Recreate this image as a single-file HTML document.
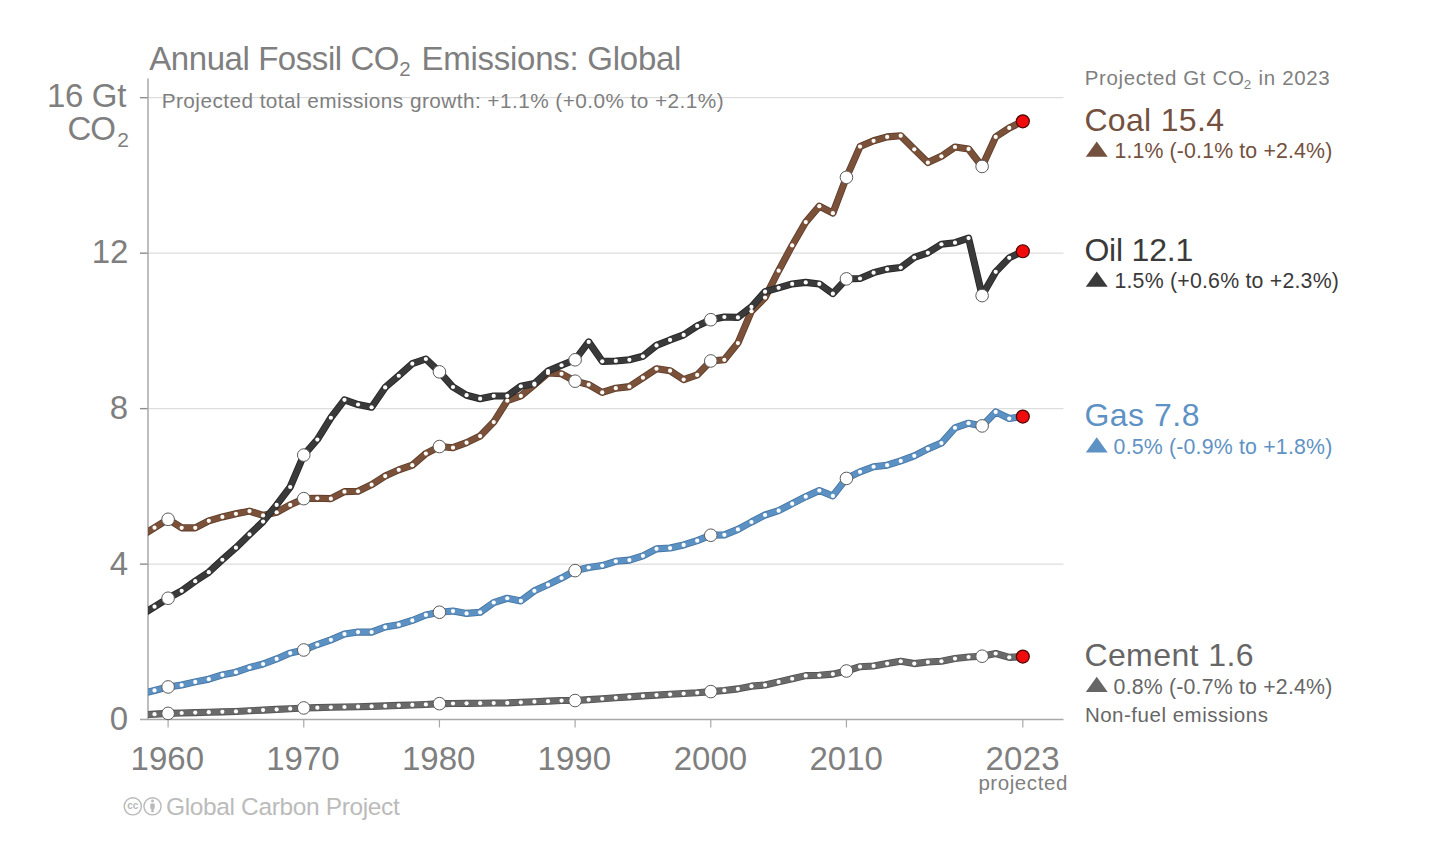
<!DOCTYPE html>
<html><head><meta charset="utf-8"><style>
html,body{margin:0;padding:0;background:#fff;}
body{width:1455px;height:857px;overflow:hidden;font-family:"Liberation Sans",sans-serif;}
svg{display:block;}
</style></head><body>
<svg width="1455" height="857" viewBox="0 0 1455 857">
<rect width="1455" height="857" fill="#ffffff"/>
<line x1="148.0" y1="564.12" x2="1063.5" y2="564.12" stroke="#dddddd" stroke-width="1.2"/>
<line x1="140" y1="564.12" x2="148.0" y2="564.12" stroke="#8c8c8c" stroke-width="1.4"/>
<line x1="148.0" y1="408.64" x2="1063.5" y2="408.64" stroke="#dddddd" stroke-width="1.2"/>
<line x1="140" y1="408.64" x2="148.0" y2="408.64" stroke="#8c8c8c" stroke-width="1.4"/>
<line x1="148.0" y1="253.16" x2="1063.5" y2="253.16" stroke="#dddddd" stroke-width="1.2"/>
<line x1="140" y1="253.16" x2="148.0" y2="253.16" stroke="#8c8c8c" stroke-width="1.4"/>
<line x1="148.0" y1="97.68" x2="1063.5" y2="97.68" stroke="#dddddd" stroke-width="1.2"/>
<line x1="140" y1="97.68" x2="148.0" y2="97.68" stroke="#8c8c8c" stroke-width="1.4"/>
<line x1="148.0" y1="78.5" x2="148.0" y2="720" stroke="#a8a8a8" stroke-width="1.5"/>
<line x1="140" y1="719.6" x2="1063.5" y2="719.6" stroke="#a8a8a8" stroke-width="1.5"/>
<line x1="168.10" y1="719.6" x2="168.10" y2="727.5" stroke="#a8a8a8" stroke-width="1.2"/>
<line x1="303.77" y1="719.6" x2="303.77" y2="727.5" stroke="#a8a8a8" stroke-width="1.2"/>
<line x1="439.44" y1="719.6" x2="439.44" y2="727.5" stroke="#a8a8a8" stroke-width="1.2"/>
<line x1="575.11" y1="719.6" x2="575.11" y2="727.5" stroke="#a8a8a8" stroke-width="1.2"/>
<line x1="710.78" y1="719.6" x2="710.78" y2="727.5" stroke="#a8a8a8" stroke-width="1.2"/>
<line x1="846.45" y1="719.6" x2="846.45" y2="727.5" stroke="#a8a8a8" stroke-width="1.2"/>
<line x1="1022.82" y1="719.6" x2="1022.82" y2="727.5" stroke="#a8a8a8" stroke-width="1.2"/>
<clipPath id="c"><rect x="148" y="0" width="1000" height="719"/></clipPath>
<g clip-path="url(#c)">
<path d="M140.97,714.94 L154.53,714.16 L168.10,713.39 L181.67,713.00 L195.23,712.61 L208.80,712.22 L222.37,711.83 L235.94,711.44 L249.50,710.76 L263.07,710.08 L276.64,709.40 L290.20,708.72 L303.77,707.94 L317.34,707.63 L330.90,707.32 L344.47,707.01 L358.04,706.70 L371.61,706.38 L385.17,705.90 L398.74,705.41 L412.31,704.93 L425.87,704.44 L439.44,703.66 L453.01,703.51 L466.57,703.35 L480.14,703.20 L493.71,703.04 L507.27,702.88 L520.84,702.30 L534.41,701.72 L547.98,701.13 L561.54,700.55 L575.11,700.55 L588.68,699.64 L602.24,698.73 L615.81,697.83 L629.38,696.85 L642.95,695.88 L656.51,695.10 L670.08,694.33 L683.65,693.55 L697.21,692.77 L710.78,691.60 L724.35,690.44 L737.91,688.88 L751.48,686.16 L765.05,684.99 L778.62,681.88 L792.18,678.77 L805.75,675.65 L819.32,675.26 L832.88,674.10 L846.45,670.99 L860.02,666.71 L873.58,665.93 L887.15,663.60 L900.72,661.26 L914.29,663.60 L927.85,662.04 L941.42,661.26 L954.99,658.54 L968.55,656.98 L982.12,656.20 L995.69,653.48 L1009.25,657.37 L1022.82,656.59" fill="none" stroke="#525252" stroke-width="7.1" stroke-linejoin="round" stroke-linecap="butt"/>
<path d="M140.97,714.94 L154.53,714.16 L168.10,713.39 L181.67,713.00 L195.23,712.61 L208.80,712.22 L222.37,711.83 L235.94,711.44 L249.50,710.76 L263.07,710.08 L276.64,709.40 L290.20,708.72 L303.77,707.94 L317.34,707.63 L330.90,707.32 L344.47,707.01 L358.04,706.70 L371.61,706.38 L385.17,705.90 L398.74,705.41 L412.31,704.93 L425.87,704.44 L439.44,703.66 L453.01,703.51 L466.57,703.35 L480.14,703.20 L493.71,703.04 L507.27,702.88 L520.84,702.30 L534.41,701.72 L547.98,701.13 L561.54,700.55 L575.11,700.55 L588.68,699.64 L602.24,698.73 L615.81,697.83 L629.38,696.85 L642.95,695.88 L656.51,695.10 L670.08,694.33 L683.65,693.55 L697.21,692.77 L710.78,691.60 L724.35,690.44 L737.91,688.88 L751.48,686.16 L765.05,684.99 L778.62,681.88 L792.18,678.77 L805.75,675.65 L819.32,675.26 L832.88,674.10 L846.45,670.99 L860.02,666.71 L873.58,665.93 L887.15,663.60 L900.72,661.26 L914.29,663.60 L927.85,662.04 L941.42,661.26 L954.99,658.54 L968.55,656.98 L982.12,656.20 L995.69,653.48 L1009.25,657.37 L1022.82,656.59" fill="none" stroke="#6a6a6a" stroke-width="5.5" stroke-linejoin="round" stroke-linecap="butt"/>
<path d="M140.97,693.94 L154.53,690.44 L168.10,686.93 L181.67,684.99 L195.23,681.88 L208.80,679.15 L222.37,674.88 L235.94,672.15 L249.50,667.49 L263.07,663.98 L276.64,658.93 L290.20,653.09 L303.77,649.98 L317.34,644.53 L330.90,639.87 L344.47,634.03 L358.04,632.09 L371.61,632.09 L385.17,627.03 L398.74,624.69 L412.31,620.42 L425.87,614.97 L439.44,612.25 L453.01,611.08 L466.57,613.41 L480.14,612.25 L493.71,602.52 L507.27,598.24 L520.84,600.97 L534.41,590.85 L547.98,584.63 L561.54,578.01 L575.11,570.62 L588.68,567.51 L602.24,565.57 L615.81,561.29 L629.38,560.12 L642.95,555.84 L656.51,548.84 L670.08,548.06 L683.65,544.95 L697.21,540.67 L710.78,535.23 L724.35,534.84 L737.91,529.39 L751.48,522.00 L765.05,515.00 L778.62,510.72 L792.18,503.72 L805.75,496.71 L819.32,490.49 L832.88,495.94 L846.45,478.43 L860.02,471.82 L873.58,466.76 L887.15,465.21 L900.72,460.93 L914.29,455.87 L927.85,448.87 L941.42,443.03 L954.99,427.86 L968.55,423.19 L982.12,425.92 L995.69,411.91 L1009.25,418.53 L1022.82,416.58" fill="none" stroke="#44739f" stroke-width="7.1" stroke-linejoin="round" stroke-linecap="butt"/>
<path d="M140.97,693.94 L154.53,690.44 L168.10,686.93 L181.67,684.99 L195.23,681.88 L208.80,679.15 L222.37,674.88 L235.94,672.15 L249.50,667.49 L263.07,663.98 L276.64,658.93 L290.20,653.09 L303.77,649.98 L317.34,644.53 L330.90,639.87 L344.47,634.03 L358.04,632.09 L371.61,632.09 L385.17,627.03 L398.74,624.69 L412.31,620.42 L425.87,614.97 L439.44,612.25 L453.01,611.08 L466.57,613.41 L480.14,612.25 L493.71,602.52 L507.27,598.24 L520.84,600.97 L534.41,590.85 L547.98,584.63 L561.54,578.01 L575.11,570.62 L588.68,567.51 L602.24,565.57 L615.81,561.29 L629.38,560.12 L642.95,555.84 L656.51,548.84 L670.08,548.06 L683.65,544.95 L697.21,540.67 L710.78,535.23 L724.35,534.84 L737.91,529.39 L751.48,522.00 L765.05,515.00 L778.62,510.72 L792.18,503.72 L805.75,496.71 L819.32,490.49 L832.88,495.94 L846.45,478.43 L860.02,471.82 L873.58,466.76 L887.15,465.21 L900.72,460.93 L914.29,455.87 L927.85,448.87 L941.42,443.03 L954.99,427.86 L968.55,423.19 L982.12,425.92 L995.69,411.91 L1009.25,418.53 L1022.82,416.58" fill="none" stroke="#5c91c4" stroke-width="5.5" stroke-linejoin="round" stroke-linecap="butt"/>
<path d="M140.97,536.12 L154.53,527.70 L168.10,519.28 L181.67,527.83 L195.23,527.83 L208.80,520.83 L222.37,516.94 L235.94,513.83 L249.50,511.11 L263.07,515.39 L276.64,512.27 L290.20,504.88 L303.77,498.66 L317.34,498.27 L330.90,498.66 L344.47,491.66 L358.04,491.27 L371.61,484.66 L385.17,476.10 L398.74,469.87 L412.31,465.21 L425.87,453.54 L439.44,446.53 L453.01,447.70 L466.57,442.64 L480.14,436.03 L493.71,422.03 L507.27,400.63 L520.84,395.96 L534.41,384.68 L547.98,373.01 L561.54,373.79 L575.11,381.18 L588.68,384.68 L602.24,392.46 L615.81,388.18 L629.38,386.63 L642.95,377.68 L656.51,368.73 L670.08,370.68 L683.65,379.62 L697.21,374.96 L710.78,360.95 L724.35,359.79 L737.91,343.06 L751.48,311.16 L765.05,297.55 L778.62,270.70 L792.18,245.42 L805.75,222.08 L819.32,206.13 L832.88,213.13 L846.45,177.35 L860.02,146.61 L873.58,140.78 L887.15,136.89 L900.72,135.72 L914.29,149.34 L927.85,162.56 L941.42,156.34 L954.99,147.00 L968.55,148.95 L982.12,166.45 L995.69,136.89 L1009.25,127.94 L1022.82,121.33" fill="none" stroke="#5c3c2a" stroke-width="7.1" stroke-linejoin="round" stroke-linecap="butt"/>
<path d="M140.97,536.12 L154.53,527.70 L168.10,519.28 L181.67,527.83 L195.23,527.83 L208.80,520.83 L222.37,516.94 L235.94,513.83 L249.50,511.11 L263.07,515.39 L276.64,512.27 L290.20,504.88 L303.77,498.66 L317.34,498.27 L330.90,498.66 L344.47,491.66 L358.04,491.27 L371.61,484.66 L385.17,476.10 L398.74,469.87 L412.31,465.21 L425.87,453.54 L439.44,446.53 L453.01,447.70 L466.57,442.64 L480.14,436.03 L493.71,422.03 L507.27,400.63 L520.84,395.96 L534.41,384.68 L547.98,373.01 L561.54,373.79 L575.11,381.18 L588.68,384.68 L602.24,392.46 L615.81,388.18 L629.38,386.63 L642.95,377.68 L656.51,368.73 L670.08,370.68 L683.65,379.62 L697.21,374.96 L710.78,360.95 L724.35,359.79 L737.91,343.06 L751.48,311.16 L765.05,297.55 L778.62,270.70 L792.18,245.42 L805.75,222.08 L819.32,206.13 L832.88,213.13 L846.45,177.35 L860.02,146.61 L873.58,140.78 L887.15,136.89 L900.72,135.72 L914.29,149.34 L927.85,162.56 L941.42,156.34 L954.99,147.00 L968.55,148.95 L982.12,166.45 L995.69,136.89 L1009.25,127.94 L1022.82,121.33" fill="none" stroke="#7b5239" stroke-width="5.5" stroke-linejoin="round" stroke-linecap="butt"/>
<path d="M140.97,615.16 L154.53,606.70 L168.10,598.24 L181.67,590.85 L195.23,581.13 L208.80,572.18 L222.37,559.73 L235.94,547.67 L249.50,534.45 L263.07,521.61 L276.64,504.88 L290.20,486.99 L303.77,455.09 L317.34,439.53 L330.90,417.75 L344.47,399.85 L358.04,404.52 L371.61,407.24 L385.17,387.40 L398.74,375.74 L412.31,363.68 L425.87,359.01 L439.44,371.85 L453.01,387.02 L466.57,395.19 L480.14,398.69 L493.71,395.96 L507.27,395.96 L520.84,386.24 L534.41,383.51 L547.98,371.07 L561.54,365.23 L575.11,359.79 L588.68,341.89 L602.24,361.34 L615.81,360.95 L629.38,359.79 L642.95,356.29 L656.51,345.39 L670.08,339.95 L683.65,334.89 L697.21,325.94 L710.78,319.72 L724.35,317.00 L737.91,317.39 L751.48,306.88 L765.05,291.71 L778.62,287.82 L792.18,283.93 L805.75,282.38 L819.32,283.93 L832.88,293.66 L846.45,278.87 L860.02,278.49 L873.58,272.65 L887.15,269.15 L900.72,267.59 L914.29,257.48 L927.85,252.81 L941.42,244.25 L954.99,242.70 L968.55,238.03 L982.12,295.60 L995.69,271.87 L1009.25,257.87 L1022.82,251.25" fill="none" stroke="#262626" stroke-width="7.1" stroke-linejoin="round" stroke-linecap="butt"/>
<path d="M140.97,615.16 L154.53,606.70 L168.10,598.24 L181.67,590.85 L195.23,581.13 L208.80,572.18 L222.37,559.73 L235.94,547.67 L249.50,534.45 L263.07,521.61 L276.64,504.88 L290.20,486.99 L303.77,455.09 L317.34,439.53 L330.90,417.75 L344.47,399.85 L358.04,404.52 L371.61,407.24 L385.17,387.40 L398.74,375.74 L412.31,363.68 L425.87,359.01 L439.44,371.85 L453.01,387.02 L466.57,395.19 L480.14,398.69 L493.71,395.96 L507.27,395.96 L520.84,386.24 L534.41,383.51 L547.98,371.07 L561.54,365.23 L575.11,359.79 L588.68,341.89 L602.24,361.34 L615.81,360.95 L629.38,359.79 L642.95,356.29 L656.51,345.39 L670.08,339.95 L683.65,334.89 L697.21,325.94 L710.78,319.72 L724.35,317.00 L737.91,317.39 L751.48,306.88 L765.05,291.71 L778.62,287.82 L792.18,283.93 L805.75,282.38 L819.32,283.93 L832.88,293.66 L846.45,278.87 L860.02,278.49 L873.58,272.65 L887.15,269.15 L900.72,267.59 L914.29,257.48 L927.85,252.81 L941.42,244.25 L954.99,242.70 L968.55,238.03 L982.12,295.60 L995.69,271.87 L1009.25,257.87 L1022.82,251.25" fill="none" stroke="#3a3a3a" stroke-width="5.5" stroke-linejoin="round" stroke-linecap="butt"/>
</g>
<circle cx="154.53" cy="714.16" r="2.1" fill="#ffffff"/>
<circle cx="168.10" cy="713.39" r="6.3" fill="#ffffff" stroke="#5a5a5a" stroke-width="1.0"/>
<circle cx="181.67" cy="713.00" r="2.1" fill="#ffffff"/>
<circle cx="195.23" cy="712.61" r="2.1" fill="#ffffff"/>
<circle cx="208.80" cy="712.22" r="2.1" fill="#ffffff"/>
<circle cx="222.37" cy="711.83" r="2.1" fill="#ffffff"/>
<circle cx="235.94" cy="711.44" r="2.1" fill="#ffffff"/>
<circle cx="249.50" cy="710.76" r="2.1" fill="#ffffff"/>
<circle cx="263.07" cy="710.08" r="2.1" fill="#ffffff"/>
<circle cx="276.64" cy="709.40" r="2.1" fill="#ffffff"/>
<circle cx="290.20" cy="708.72" r="2.1" fill="#ffffff"/>
<circle cx="303.77" cy="707.94" r="6.3" fill="#ffffff" stroke="#5a5a5a" stroke-width="1.0"/>
<circle cx="317.34" cy="707.63" r="2.1" fill="#ffffff"/>
<circle cx="330.90" cy="707.32" r="2.1" fill="#ffffff"/>
<circle cx="344.47" cy="707.01" r="2.1" fill="#ffffff"/>
<circle cx="358.04" cy="706.70" r="2.1" fill="#ffffff"/>
<circle cx="371.61" cy="706.38" r="2.1" fill="#ffffff"/>
<circle cx="385.17" cy="705.90" r="2.1" fill="#ffffff"/>
<circle cx="398.74" cy="705.41" r="2.1" fill="#ffffff"/>
<circle cx="412.31" cy="704.93" r="2.1" fill="#ffffff"/>
<circle cx="425.87" cy="704.44" r="2.1" fill="#ffffff"/>
<circle cx="439.44" cy="703.66" r="6.3" fill="#ffffff" stroke="#5a5a5a" stroke-width="1.0"/>
<circle cx="453.01" cy="703.51" r="2.1" fill="#ffffff"/>
<circle cx="466.57" cy="703.35" r="2.1" fill="#ffffff"/>
<circle cx="480.14" cy="703.20" r="2.1" fill="#ffffff"/>
<circle cx="493.71" cy="703.04" r="2.1" fill="#ffffff"/>
<circle cx="507.27" cy="702.88" r="2.1" fill="#ffffff"/>
<circle cx="520.84" cy="702.30" r="2.1" fill="#ffffff"/>
<circle cx="534.41" cy="701.72" r="2.1" fill="#ffffff"/>
<circle cx="547.98" cy="701.13" r="2.1" fill="#ffffff"/>
<circle cx="561.54" cy="700.55" r="2.1" fill="#ffffff"/>
<circle cx="575.11" cy="700.55" r="6.3" fill="#ffffff" stroke="#5a5a5a" stroke-width="1.0"/>
<circle cx="588.68" cy="699.64" r="2.1" fill="#ffffff"/>
<circle cx="602.24" cy="698.73" r="2.1" fill="#ffffff"/>
<circle cx="615.81" cy="697.83" r="2.1" fill="#ffffff"/>
<circle cx="629.38" cy="696.85" r="2.1" fill="#ffffff"/>
<circle cx="642.95" cy="695.88" r="2.1" fill="#ffffff"/>
<circle cx="656.51" cy="695.10" r="2.1" fill="#ffffff"/>
<circle cx="670.08" cy="694.33" r="2.1" fill="#ffffff"/>
<circle cx="683.65" cy="693.55" r="2.1" fill="#ffffff"/>
<circle cx="697.21" cy="692.77" r="2.1" fill="#ffffff"/>
<circle cx="710.78" cy="691.60" r="6.3" fill="#ffffff" stroke="#5a5a5a" stroke-width="1.0"/>
<circle cx="724.35" cy="690.44" r="2.1" fill="#ffffff"/>
<circle cx="737.91" cy="688.88" r="2.1" fill="#ffffff"/>
<circle cx="751.48" cy="686.16" r="2.1" fill="#ffffff"/>
<circle cx="765.05" cy="684.99" r="2.1" fill="#ffffff"/>
<circle cx="778.62" cy="681.88" r="2.1" fill="#ffffff"/>
<circle cx="792.18" cy="678.77" r="2.1" fill="#ffffff"/>
<circle cx="805.75" cy="675.65" r="2.1" fill="#ffffff"/>
<circle cx="819.32" cy="675.26" r="2.1" fill="#ffffff"/>
<circle cx="832.88" cy="674.10" r="2.1" fill="#ffffff"/>
<circle cx="846.45" cy="670.99" r="6.3" fill="#ffffff" stroke="#5a5a5a" stroke-width="1.0"/>
<circle cx="860.02" cy="666.71" r="2.1" fill="#ffffff"/>
<circle cx="873.58" cy="665.93" r="2.1" fill="#ffffff"/>
<circle cx="887.15" cy="663.60" r="2.1" fill="#ffffff"/>
<circle cx="900.72" cy="661.26" r="2.1" fill="#ffffff"/>
<circle cx="914.29" cy="663.60" r="2.1" fill="#ffffff"/>
<circle cx="927.85" cy="662.04" r="2.1" fill="#ffffff"/>
<circle cx="941.42" cy="661.26" r="2.1" fill="#ffffff"/>
<circle cx="954.99" cy="658.54" r="2.1" fill="#ffffff"/>
<circle cx="968.55" cy="656.98" r="2.1" fill="#ffffff"/>
<circle cx="982.12" cy="656.20" r="6.3" fill="#ffffff" stroke="#5a5a5a" stroke-width="1.0"/>
<circle cx="995.69" cy="653.48" r="2.1" fill="#ffffff"/>
<circle cx="1009.25" cy="657.37" r="2.1" fill="#ffffff"/>
<circle cx="1022.82" cy="656.59" r="6.5" fill="#f00c0c" stroke="#4a0505" stroke-width="1.2"/>
<circle cx="154.53" cy="690.44" r="2.1" fill="#ffffff"/>
<circle cx="168.10" cy="686.93" r="6.3" fill="#ffffff" stroke="#5a5a5a" stroke-width="1.0"/>
<circle cx="181.67" cy="684.99" r="2.1" fill="#ffffff"/>
<circle cx="195.23" cy="681.88" r="2.1" fill="#ffffff"/>
<circle cx="208.80" cy="679.15" r="2.1" fill="#ffffff"/>
<circle cx="222.37" cy="674.88" r="2.1" fill="#ffffff"/>
<circle cx="235.94" cy="672.15" r="2.1" fill="#ffffff"/>
<circle cx="249.50" cy="667.49" r="2.1" fill="#ffffff"/>
<circle cx="263.07" cy="663.98" r="2.1" fill="#ffffff"/>
<circle cx="276.64" cy="658.93" r="2.1" fill="#ffffff"/>
<circle cx="290.20" cy="653.09" r="2.1" fill="#ffffff"/>
<circle cx="303.77" cy="649.98" r="6.3" fill="#ffffff" stroke="#5a5a5a" stroke-width="1.0"/>
<circle cx="317.34" cy="644.53" r="2.1" fill="#ffffff"/>
<circle cx="330.90" cy="639.87" r="2.1" fill="#ffffff"/>
<circle cx="344.47" cy="634.03" r="2.1" fill="#ffffff"/>
<circle cx="358.04" cy="632.09" r="2.1" fill="#ffffff"/>
<circle cx="371.61" cy="632.09" r="2.1" fill="#ffffff"/>
<circle cx="385.17" cy="627.03" r="2.1" fill="#ffffff"/>
<circle cx="398.74" cy="624.69" r="2.1" fill="#ffffff"/>
<circle cx="412.31" cy="620.42" r="2.1" fill="#ffffff"/>
<circle cx="425.87" cy="614.97" r="2.1" fill="#ffffff"/>
<circle cx="439.44" cy="612.25" r="6.3" fill="#ffffff" stroke="#5a5a5a" stroke-width="1.0"/>
<circle cx="453.01" cy="611.08" r="2.1" fill="#ffffff"/>
<circle cx="466.57" cy="613.41" r="2.1" fill="#ffffff"/>
<circle cx="480.14" cy="612.25" r="2.1" fill="#ffffff"/>
<circle cx="493.71" cy="602.52" r="2.1" fill="#ffffff"/>
<circle cx="507.27" cy="598.24" r="2.1" fill="#ffffff"/>
<circle cx="520.84" cy="600.97" r="2.1" fill="#ffffff"/>
<circle cx="534.41" cy="590.85" r="2.1" fill="#ffffff"/>
<circle cx="547.98" cy="584.63" r="2.1" fill="#ffffff"/>
<circle cx="561.54" cy="578.01" r="2.1" fill="#ffffff"/>
<circle cx="575.11" cy="570.62" r="6.3" fill="#ffffff" stroke="#5a5a5a" stroke-width="1.0"/>
<circle cx="588.68" cy="567.51" r="2.1" fill="#ffffff"/>
<circle cx="602.24" cy="565.57" r="2.1" fill="#ffffff"/>
<circle cx="615.81" cy="561.29" r="2.1" fill="#ffffff"/>
<circle cx="629.38" cy="560.12" r="2.1" fill="#ffffff"/>
<circle cx="642.95" cy="555.84" r="2.1" fill="#ffffff"/>
<circle cx="656.51" cy="548.84" r="2.1" fill="#ffffff"/>
<circle cx="670.08" cy="548.06" r="2.1" fill="#ffffff"/>
<circle cx="683.65" cy="544.95" r="2.1" fill="#ffffff"/>
<circle cx="697.21" cy="540.67" r="2.1" fill="#ffffff"/>
<circle cx="710.78" cy="535.23" r="6.3" fill="#ffffff" stroke="#5a5a5a" stroke-width="1.0"/>
<circle cx="724.35" cy="534.84" r="2.1" fill="#ffffff"/>
<circle cx="737.91" cy="529.39" r="2.1" fill="#ffffff"/>
<circle cx="751.48" cy="522.00" r="2.1" fill="#ffffff"/>
<circle cx="765.05" cy="515.00" r="2.1" fill="#ffffff"/>
<circle cx="778.62" cy="510.72" r="2.1" fill="#ffffff"/>
<circle cx="792.18" cy="503.72" r="2.1" fill="#ffffff"/>
<circle cx="805.75" cy="496.71" r="2.1" fill="#ffffff"/>
<circle cx="819.32" cy="490.49" r="2.1" fill="#ffffff"/>
<circle cx="832.88" cy="495.94" r="2.1" fill="#ffffff"/>
<circle cx="846.45" cy="478.43" r="6.3" fill="#ffffff" stroke="#5a5a5a" stroke-width="1.0"/>
<circle cx="860.02" cy="471.82" r="2.1" fill="#ffffff"/>
<circle cx="873.58" cy="466.76" r="2.1" fill="#ffffff"/>
<circle cx="887.15" cy="465.21" r="2.1" fill="#ffffff"/>
<circle cx="900.72" cy="460.93" r="2.1" fill="#ffffff"/>
<circle cx="914.29" cy="455.87" r="2.1" fill="#ffffff"/>
<circle cx="927.85" cy="448.87" r="2.1" fill="#ffffff"/>
<circle cx="941.42" cy="443.03" r="2.1" fill="#ffffff"/>
<circle cx="954.99" cy="427.86" r="2.1" fill="#ffffff"/>
<circle cx="968.55" cy="423.19" r="2.1" fill="#ffffff"/>
<circle cx="982.12" cy="425.92" r="6.3" fill="#ffffff" stroke="#5a5a5a" stroke-width="1.0"/>
<circle cx="995.69" cy="411.91" r="2.1" fill="#ffffff"/>
<circle cx="1009.25" cy="418.53" r="2.1" fill="#ffffff"/>
<circle cx="1022.82" cy="416.58" r="6.5" fill="#f00c0c" stroke="#4a0505" stroke-width="1.2"/>
<circle cx="154.53" cy="527.70" r="2.1" fill="#ffffff"/>
<circle cx="168.10" cy="519.28" r="6.3" fill="#ffffff" stroke="#5a5a5a" stroke-width="1.0"/>
<circle cx="181.67" cy="527.83" r="2.1" fill="#ffffff"/>
<circle cx="195.23" cy="527.83" r="2.1" fill="#ffffff"/>
<circle cx="208.80" cy="520.83" r="2.1" fill="#ffffff"/>
<circle cx="222.37" cy="516.94" r="2.1" fill="#ffffff"/>
<circle cx="235.94" cy="513.83" r="2.1" fill="#ffffff"/>
<circle cx="249.50" cy="511.11" r="2.1" fill="#ffffff"/>
<circle cx="263.07" cy="515.39" r="2.1" fill="#ffffff"/>
<circle cx="276.64" cy="512.27" r="2.1" fill="#ffffff"/>
<circle cx="290.20" cy="504.88" r="2.1" fill="#ffffff"/>
<circle cx="303.77" cy="498.66" r="6.3" fill="#ffffff" stroke="#5a5a5a" stroke-width="1.0"/>
<circle cx="317.34" cy="498.27" r="2.1" fill="#ffffff"/>
<circle cx="330.90" cy="498.66" r="2.1" fill="#ffffff"/>
<circle cx="344.47" cy="491.66" r="2.1" fill="#ffffff"/>
<circle cx="358.04" cy="491.27" r="2.1" fill="#ffffff"/>
<circle cx="371.61" cy="484.66" r="2.1" fill="#ffffff"/>
<circle cx="385.17" cy="476.10" r="2.1" fill="#ffffff"/>
<circle cx="398.74" cy="469.87" r="2.1" fill="#ffffff"/>
<circle cx="412.31" cy="465.21" r="2.1" fill="#ffffff"/>
<circle cx="425.87" cy="453.54" r="2.1" fill="#ffffff"/>
<circle cx="439.44" cy="446.53" r="6.3" fill="#ffffff" stroke="#5a5a5a" stroke-width="1.0"/>
<circle cx="453.01" cy="447.70" r="2.1" fill="#ffffff"/>
<circle cx="466.57" cy="442.64" r="2.1" fill="#ffffff"/>
<circle cx="480.14" cy="436.03" r="2.1" fill="#ffffff"/>
<circle cx="493.71" cy="422.03" r="2.1" fill="#ffffff"/>
<circle cx="507.27" cy="400.63" r="2.1" fill="#ffffff"/>
<circle cx="520.84" cy="395.96" r="2.1" fill="#ffffff"/>
<circle cx="534.41" cy="384.68" r="2.1" fill="#ffffff"/>
<circle cx="547.98" cy="373.01" r="2.1" fill="#ffffff"/>
<circle cx="561.54" cy="373.79" r="2.1" fill="#ffffff"/>
<circle cx="575.11" cy="381.18" r="6.3" fill="#ffffff" stroke="#5a5a5a" stroke-width="1.0"/>
<circle cx="588.68" cy="384.68" r="2.1" fill="#ffffff"/>
<circle cx="602.24" cy="392.46" r="2.1" fill="#ffffff"/>
<circle cx="615.81" cy="388.18" r="2.1" fill="#ffffff"/>
<circle cx="629.38" cy="386.63" r="2.1" fill="#ffffff"/>
<circle cx="642.95" cy="377.68" r="2.1" fill="#ffffff"/>
<circle cx="656.51" cy="368.73" r="2.1" fill="#ffffff"/>
<circle cx="670.08" cy="370.68" r="2.1" fill="#ffffff"/>
<circle cx="683.65" cy="379.62" r="2.1" fill="#ffffff"/>
<circle cx="697.21" cy="374.96" r="2.1" fill="#ffffff"/>
<circle cx="710.78" cy="360.95" r="6.3" fill="#ffffff" stroke="#5a5a5a" stroke-width="1.0"/>
<circle cx="724.35" cy="359.79" r="2.1" fill="#ffffff"/>
<circle cx="737.91" cy="343.06" r="2.1" fill="#ffffff"/>
<circle cx="751.48" cy="311.16" r="2.1" fill="#ffffff"/>
<circle cx="765.05" cy="297.55" r="2.1" fill="#ffffff"/>
<circle cx="778.62" cy="270.70" r="2.1" fill="#ffffff"/>
<circle cx="792.18" cy="245.42" r="2.1" fill="#ffffff"/>
<circle cx="805.75" cy="222.08" r="2.1" fill="#ffffff"/>
<circle cx="819.32" cy="206.13" r="2.1" fill="#ffffff"/>
<circle cx="832.88" cy="213.13" r="2.1" fill="#ffffff"/>
<circle cx="846.45" cy="177.35" r="6.3" fill="#ffffff" stroke="#5a5a5a" stroke-width="1.0"/>
<circle cx="860.02" cy="146.61" r="2.1" fill="#ffffff"/>
<circle cx="873.58" cy="140.78" r="2.1" fill="#ffffff"/>
<circle cx="887.15" cy="136.89" r="2.1" fill="#ffffff"/>
<circle cx="900.72" cy="135.72" r="2.1" fill="#ffffff"/>
<circle cx="914.29" cy="149.34" r="2.1" fill="#ffffff"/>
<circle cx="927.85" cy="162.56" r="2.1" fill="#ffffff"/>
<circle cx="941.42" cy="156.34" r="2.1" fill="#ffffff"/>
<circle cx="954.99" cy="147.00" r="2.1" fill="#ffffff"/>
<circle cx="968.55" cy="148.95" r="2.1" fill="#ffffff"/>
<circle cx="982.12" cy="166.45" r="6.3" fill="#ffffff" stroke="#5a5a5a" stroke-width="1.0"/>
<circle cx="995.69" cy="136.89" r="2.1" fill="#ffffff"/>
<circle cx="1009.25" cy="127.94" r="2.1" fill="#ffffff"/>
<circle cx="1022.82" cy="121.33" r="6.5" fill="#f00c0c" stroke="#4a0505" stroke-width="1.2"/>
<circle cx="154.53" cy="606.70" r="2.1" fill="#ffffff"/>
<circle cx="168.10" cy="598.24" r="6.3" fill="#ffffff" stroke="#5a5a5a" stroke-width="1.0"/>
<circle cx="181.67" cy="590.85" r="2.1" fill="#ffffff"/>
<circle cx="195.23" cy="581.13" r="2.1" fill="#ffffff"/>
<circle cx="208.80" cy="572.18" r="2.1" fill="#ffffff"/>
<circle cx="222.37" cy="559.73" r="2.1" fill="#ffffff"/>
<circle cx="235.94" cy="547.67" r="2.1" fill="#ffffff"/>
<circle cx="249.50" cy="534.45" r="2.1" fill="#ffffff"/>
<circle cx="263.07" cy="521.61" r="2.1" fill="#ffffff"/>
<circle cx="276.64" cy="504.88" r="2.1" fill="#ffffff"/>
<circle cx="290.20" cy="486.99" r="2.1" fill="#ffffff"/>
<circle cx="303.77" cy="455.09" r="6.3" fill="#ffffff" stroke="#5a5a5a" stroke-width="1.0"/>
<circle cx="317.34" cy="439.53" r="2.1" fill="#ffffff"/>
<circle cx="330.90" cy="417.75" r="2.1" fill="#ffffff"/>
<circle cx="344.47" cy="399.85" r="2.1" fill="#ffffff"/>
<circle cx="358.04" cy="404.52" r="2.1" fill="#ffffff"/>
<circle cx="371.61" cy="407.24" r="2.1" fill="#ffffff"/>
<circle cx="385.17" cy="387.40" r="2.1" fill="#ffffff"/>
<circle cx="398.74" cy="375.74" r="2.1" fill="#ffffff"/>
<circle cx="412.31" cy="363.68" r="2.1" fill="#ffffff"/>
<circle cx="425.87" cy="359.01" r="2.1" fill="#ffffff"/>
<circle cx="439.44" cy="371.85" r="6.3" fill="#ffffff" stroke="#5a5a5a" stroke-width="1.0"/>
<circle cx="453.01" cy="387.02" r="2.1" fill="#ffffff"/>
<circle cx="466.57" cy="395.19" r="2.1" fill="#ffffff"/>
<circle cx="480.14" cy="398.69" r="2.1" fill="#ffffff"/>
<circle cx="493.71" cy="395.96" r="2.1" fill="#ffffff"/>
<circle cx="507.27" cy="395.96" r="2.1" fill="#ffffff"/>
<circle cx="520.84" cy="386.24" r="2.1" fill="#ffffff"/>
<circle cx="534.41" cy="383.51" r="2.1" fill="#ffffff"/>
<circle cx="547.98" cy="371.07" r="2.1" fill="#ffffff"/>
<circle cx="561.54" cy="365.23" r="2.1" fill="#ffffff"/>
<circle cx="575.11" cy="359.79" r="6.3" fill="#ffffff" stroke="#5a5a5a" stroke-width="1.0"/>
<circle cx="588.68" cy="341.89" r="2.1" fill="#ffffff"/>
<circle cx="602.24" cy="361.34" r="2.1" fill="#ffffff"/>
<circle cx="615.81" cy="360.95" r="2.1" fill="#ffffff"/>
<circle cx="629.38" cy="359.79" r="2.1" fill="#ffffff"/>
<circle cx="642.95" cy="356.29" r="2.1" fill="#ffffff"/>
<circle cx="656.51" cy="345.39" r="2.1" fill="#ffffff"/>
<circle cx="670.08" cy="339.95" r="2.1" fill="#ffffff"/>
<circle cx="683.65" cy="334.89" r="2.1" fill="#ffffff"/>
<circle cx="697.21" cy="325.94" r="2.1" fill="#ffffff"/>
<circle cx="710.78" cy="319.72" r="6.3" fill="#ffffff" stroke="#5a5a5a" stroke-width="1.0"/>
<circle cx="724.35" cy="317.00" r="2.1" fill="#ffffff"/>
<circle cx="737.91" cy="317.39" r="2.1" fill="#ffffff"/>
<circle cx="751.48" cy="306.88" r="2.1" fill="#ffffff"/>
<circle cx="765.05" cy="291.71" r="2.1" fill="#ffffff"/>
<circle cx="778.62" cy="287.82" r="2.1" fill="#ffffff"/>
<circle cx="792.18" cy="283.93" r="2.1" fill="#ffffff"/>
<circle cx="805.75" cy="282.38" r="2.1" fill="#ffffff"/>
<circle cx="819.32" cy="283.93" r="2.1" fill="#ffffff"/>
<circle cx="832.88" cy="293.66" r="2.1" fill="#ffffff"/>
<circle cx="846.45" cy="278.87" r="6.3" fill="#ffffff" stroke="#5a5a5a" stroke-width="1.0"/>
<circle cx="860.02" cy="278.49" r="2.1" fill="#ffffff"/>
<circle cx="873.58" cy="272.65" r="2.1" fill="#ffffff"/>
<circle cx="887.15" cy="269.15" r="2.1" fill="#ffffff"/>
<circle cx="900.72" cy="267.59" r="2.1" fill="#ffffff"/>
<circle cx="914.29" cy="257.48" r="2.1" fill="#ffffff"/>
<circle cx="927.85" cy="252.81" r="2.1" fill="#ffffff"/>
<circle cx="941.42" cy="244.25" r="2.1" fill="#ffffff"/>
<circle cx="954.99" cy="242.70" r="2.1" fill="#ffffff"/>
<circle cx="968.55" cy="238.03" r="2.1" fill="#ffffff"/>
<circle cx="982.12" cy="295.60" r="6.3" fill="#ffffff" stroke="#5a5a5a" stroke-width="1.0"/>
<circle cx="995.69" cy="271.87" r="2.1" fill="#ffffff"/>
<circle cx="1009.25" cy="257.87" r="2.1" fill="#ffffff"/>
<circle cx="1022.82" cy="251.25" r="6.5" fill="#f00c0c" stroke="#4a0505" stroke-width="1.2"/>
<text x="149.30" y="70.00" font-size="33" fill="#7f7f7f" letter-spacing="-0.440" font-family="Liberation Sans, sans-serif">Annual Fossil CO</text>
<text x="399.20" y="76.40" font-size="20.5" fill="#7f7f7f" letter-spacing="0.000" font-family="Liberation Sans, sans-serif">2</text>
<text x="421.50" y="70.00" font-size="33" fill="#7f7f7f" letter-spacing="-0.263" font-family="Liberation Sans, sans-serif">Emissions: Global</text>
<text x="161.70" y="107.80" font-size="20.8" fill="#7f7f7f" letter-spacing="0.433" font-family="Liberation Sans, sans-serif">Projected total emissions growth: +1.1% (+0.0% to +2.1%)</text>
<text x="47.00" y="107.00" font-size="33" fill="#7f7f7f" letter-spacing="-0.350" font-family="Liberation Sans, sans-serif">16 Gt</text>
<text x="67.40" y="140.10" font-size="33" fill="#7f7f7f" letter-spacing="-0.900" font-family="Liberation Sans, sans-serif">CO</text>
<text x="117.20" y="146.60" font-size="21" fill="#7f7f7f" letter-spacing="0.000" font-family="Liberation Sans, sans-serif">2</text>
<text x="91.70" y="263.30" font-size="33" fill="#7f7f7f" letter-spacing="0.000" font-family="Liberation Sans, sans-serif">12</text>
<text x="109.70" y="418.90" font-size="33" fill="#7f7f7f" letter-spacing="0.000" font-family="Liberation Sans, sans-serif">8</text>
<text x="109.70" y="574.50" font-size="33" fill="#7f7f7f" letter-spacing="0.000" font-family="Liberation Sans, sans-serif">4</text>
<text x="109.70" y="730.10" font-size="33" fill="#7f7f7f" letter-spacing="0.000" font-family="Liberation Sans, sans-serif">0</text>
<text x="130.60" y="770.00" font-size="33" fill="#7f7f7f" letter-spacing="0.000" font-family="Liberation Sans, sans-serif">1960</text>
<text x="266.27" y="770.00" font-size="33" fill="#7f7f7f" letter-spacing="0.000" font-family="Liberation Sans, sans-serif">1970</text>
<text x="401.94" y="770.00" font-size="33" fill="#7f7f7f" letter-spacing="0.000" font-family="Liberation Sans, sans-serif">1980</text>
<text x="537.61" y="770.00" font-size="33" fill="#7f7f7f" letter-spacing="0.000" font-family="Liberation Sans, sans-serif">1990</text>
<text x="673.78" y="770.00" font-size="33" fill="#7f7f7f" letter-spacing="0.000" font-family="Liberation Sans, sans-serif">2000</text>
<text x="809.45" y="770.00" font-size="33" fill="#7f7f7f" letter-spacing="0.000" font-family="Liberation Sans, sans-serif">2010</text>
<text x="985.60" y="770.00" font-size="33" fill="#7f7f7f" letter-spacing="0.167" font-family="Liberation Sans, sans-serif">2023</text>
<text x="978.40" y="789.50" font-size="20.5" fill="#7f7f7f" letter-spacing="0.575" font-family="Liberation Sans, sans-serif">projected</text>
<text x="166.00" y="814.70" font-size="24.5" fill="#bbbbbb" letter-spacing="-0.365" font-family="Liberation Sans, sans-serif">Global Carbon Project</text>
<text x="1084.80" y="85.20" font-size="20.5" fill="#7f7f7f" letter-spacing="0.621" font-family="Liberation Sans, sans-serif">Projected Gt CO</text>
<text x="1243.80" y="88.80" font-size="13.5" fill="#7f7f7f" letter-spacing="0.000" font-family="Liberation Sans, sans-serif">2</text>
<text x="1258.60" y="85.20" font-size="20.5" fill="#7f7f7f" letter-spacing="0.633" font-family="Liberation Sans, sans-serif">in 2023</text>
<text x="1084.40" y="131.00" font-size="32" fill="#73513e" letter-spacing="0.325" font-family="Liberation Sans, sans-serif">Coal 15.4</text>
<text x="1114.40" y="157.70" font-size="21.3" fill="#73513e" letter-spacing="0.150" font-family="Liberation Sans, sans-serif">1.1% (-0.1% to +2.4%)</text>
<text x="1084.40" y="261.00" font-size="32" fill="#3a3a3a" letter-spacing="-0.200" font-family="Liberation Sans, sans-serif">Oil 12.1</text>
<text x="1114.40" y="287.60" font-size="21.3" fill="#3a3a3a" letter-spacing="0.215" font-family="Liberation Sans, sans-serif">1.5% (+0.6% to +2.3%)</text>
<text x="1084.40" y="426.30" font-size="32" fill="#5f92c4" letter-spacing="0.500" font-family="Liberation Sans, sans-serif">Gas 7.8</text>
<text x="1113.60" y="453.60" font-size="21.3" fill="#5f92c4" letter-spacing="0.190" font-family="Liberation Sans, sans-serif">0.5% (-0.9% to +1.8%)</text>
<text x="1084.40" y="666.30" font-size="32" fill="#666666" letter-spacing="0.411" font-family="Liberation Sans, sans-serif">Cement 1.6</text>
<text x="1113.60" y="693.60" font-size="21.3" fill="#666666" letter-spacing="0.190" font-family="Liberation Sans, sans-serif">0.8% (-0.7% to +2.4%)</text>
<text x="1084.90" y="722.10" font-size="20.5" fill="#666666" letter-spacing="0.512" font-family="Liberation Sans, sans-serif">Non-fuel emissions</text>
<circle cx="132.8" cy="806.3" r="8.6" fill="none" stroke="#b9b9b9" stroke-width="1.4"/>
<text x="132.8" y="808.6" font-size="10" fill="#b9b9b9" text-anchor="middle" font-weight="bold" font-family="Liberation Sans, sans-serif">cc</text>
<circle cx="152.5" cy="806.3" r="8.6" fill="none" stroke="#b9b9b9" stroke-width="1.4"/>
<circle cx="152.5" cy="801" r="1.4" fill="#b9b9b9"/><rect x="150.3" y="803.6" width="4.4" height="5.5" rx="0.8" fill="#b9b9b9"/><rect x="151.3" y="807.5" width="2.4" height="4.8" fill="#b9b9b9"/>
<path d="M1085.8,156.8 L1107.7,156.8 L1096.75,141.5 Z" fill="#73513e"/>
<path d="M1085.8,286.8 L1107.7,286.8 L1096.75,271.5 Z" fill="#3a3a3a"/>
<path d="M1085.8,452.6 L1107.7,452.6 L1096.75,437.3 Z" fill="#5f92c4"/>
<path d="M1085.8,692.1 L1107.7,692.1 L1096.75,676.8000000000001 Z" fill="#666666"/>
</svg>
</body></html>
